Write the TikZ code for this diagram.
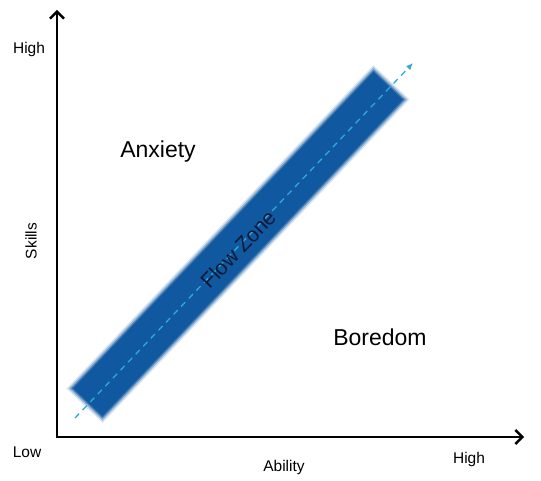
\documentclass[tikz,border=0pt]{standalone}
\usepackage{fontspec}
\setmainfont{Liberation Sans}
\usepackage{tikz}
\usetikzlibrary{arrows.meta,positioning}

\definecolor{bandblue}{RGB}{16,88,160}
\definecolor{dashcyan}{RGB}{45,170,220}
\definecolor{flowtext}{RGB}{15,25,55}

\tikzset{
  axis/.style={line width=2.6pt, -{Straight Barb[length=7pt,width=14pt,line width=2.4pt]}},
  lbl/.style={font=\fontsize{15.5}{18}\selectfont, inner sep=0pt},
  zone/.style={font=\fontsize{23}{27}\selectfont, inner sep=0pt},
  soft/.style={fill=bandblue, draw=none, rotate around={46.5:(238,236)}}
}

\begin{document}
\begin{tikzpicture}[x=1pt, y=1pt]
	\useasboundingbox (0,0) rectangle (541,480);
	
	% the flow band, edges softened a little
	\foreach \g/\o in {5/0.15, 3.5/0.3, 2/0.45, 1/0.6}
		\fill[soft, opacity=\o] (20-\g,216-\g) rectangle (456+\g,256+\g);
	\fill[soft] (20,216) rectangle (456,256);
	
	\coordinate (start) at (75,62);
	\coordinate (stop) at (413,417);
	\draw[dashcyan, line width=1.3pt, dash pattern=on 6pt off 5pt, -{Latex[length=7pt,width=6pt]}] (start) -- (stop);
	
	\node[rotate=46.5, text=flowtext, font=\fontsize{21}{25}\selectfont, inner sep=0pt] (flowlbl) at (238,231) {Flow Zone};
	
	% axes
	\coordinate (O) at (57,43);
	\coordinate (ytop) at (57,470);
	\coordinate (xend) at (524,43);
	\draw[axis] ([yshift=-1.3pt]O) -- (ytop);
	\draw[axis] ([xshift=-1.3pt]O) -- (xend);
	
	\node[lbl] (yhigh) at (29,431) {High};
	\node[lbl] (ylow) at (27,28) {Low};
	\node[lbl, rotate=90] (skills) at (31,239) {Skills};
	\node[lbl] (ability) at (284,13) {Ability};
	\node[lbl] (xhigh) at (469,21) {High};
	
	\node[zone] (anx) at (158,328) {Anxiety};
	\node[zone] (bore) at (380,143) {Boredom};
\end{tikzpicture}
\end{document}
